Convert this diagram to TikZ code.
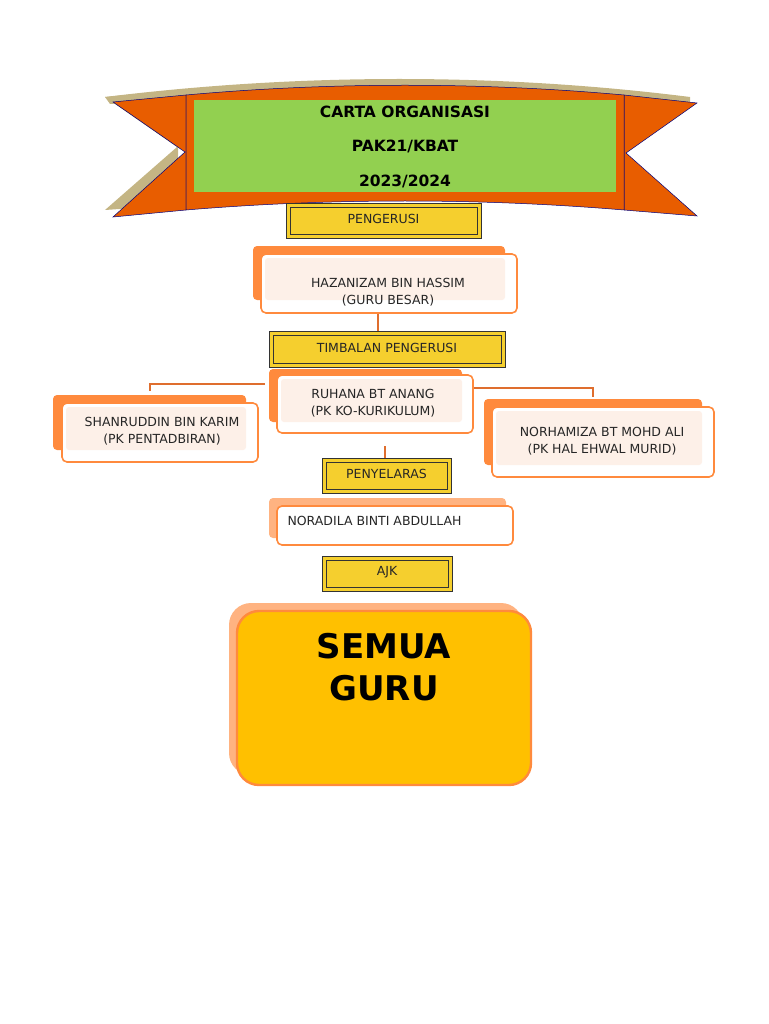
\documentclass[tikz,border=0pt]{standalone}
\usepackage{fontspec}
\setmainfont{DejaVu Sans}
\begin{document}
\begin{tikzpicture}[x=1pt,y=-1pt,
  bev/.style={draw=black!80,fill=yelfill,line width=0.8pt},
  bevin/.style={draw=black!80,line width=0.6pt},
  shad/.style={fill=shadorange,rounded corners=4pt},
  front/.style={draw=shadorange,line width=1.6pt,fill=white,rounded corners=5pt},
  inner/.style={fill=palefill,rounded corners=3pt},
  txt/.style={font=\fontsize{12.5}{15}\selectfont,text=black!85,align=center},
  conn/.style={draw=connc,line width=2pt}]
\definecolor{yelfill}{HTML}{F5CF2E}
\definecolor{shadorange}{HTML}{FF8A3D}
\definecolor{palefill}{HTML}{FDF0E8}
\definecolor{connc}{HTML}{DF6E2E}
\definecolor{banor}{HTML}{E85D00}
\definecolor{tan}{HTML}{C4B584}
\definecolor{greenf}{HTML}{92D050}
\definecolor{gold}{HTML}{FFC000}
\useasboundingbox (0,0) rectangle (768,1024);
% banner shadow
\fill[tan] (105,97) .. controls (300,73) and (500,73) .. (690,97) -- (690,104) -- (110,104) -- cycle;
\fill[tan] (105,97) -- (178,90) -- (178,205) -- (105,210) -- (177,147) -- cycle;
% tails
\draw[fill=banor,draw=blue!50!black,line width=0.5pt] (113,102) -- (186,95) -- (186,210) -- (113,217) -- (185,152) -- cycle;
\draw[fill=banor,draw=blue!50!black,line width=0.5pt] (624,95) -- (697,103) -- (626,153) -- (697,216) -- (624,210) -- cycle;
% center
\draw[fill=banor,draw=blue!50!black,line width=0.5pt] (186,95) .. controls (330,82) and (480,82) .. (624,95) -- (624,210) .. controls (480,198) and (330,198) .. (186,210) -- cycle;
\fill[greenf] (194,100) rectangle (616,192);
\node[font=\bfseries\fontsize{15.5}{18}\selectfont] (t1) at (405,112) {CARTA ORGANISASI};
\node[font=\bfseries\fontsize{15.5}{18}\selectfont] (t2) at (405,146) {PAK21/KBAT};
\node[font=\bfseries\fontsize{15.5}{18}\selectfont] (t3) at (405,181) {2023/2024};
% bevel boxes
\draw[bev] (286,203) rectangle (481,238); \draw[bevin] (290,207) rectangle (477,234);
\node[txt] (peng) at (383.5,219) {PENGERUSI};
\draw[bev] (269,331) rectangle (505,367); \draw[bevin] (273,335) rectangle (501,363);
\node[txt] (timb) at (387,348) {TIMBALAN PENGERUSI};
\draw[bev] (322,458) rectangle (451,493); \draw[bevin] (326,462) rectangle (447,489);
\node[txt] (peny) at (386.5,474) {PENYELARAS};
\draw[bev] (322,556) rectangle (452,591); \draw[bevin] (326,560) rectangle (448,587);
\node[txt] (ajk) at (387,572) {AJK};
% connectors
\coordinate (c1) at (378,313); \coordinate (c2) at (378,331);
\draw[conn] (c1) -- (c2);
\coordinate (l1) at (265,384); \coordinate (l2) at (150,391);
\draw[conn] (l1) -| (l2);
\coordinate (r1) at (473,388); \coordinate (r2) at (593,397);
\draw[conn] (r1) -| (r2);
\coordinate (d1) at (385,446); \coordinate (d2) at (385,458);
\draw[conn] (d1) -- (d2);
% person boxes
\fill[shad] (253,246) rectangle (505,300);
\draw[front] (261,254) rectangle (517,313); \fill[inner] (265,258) rectangle (505,300);
\node[txt] (haz) at (388,292) {HAZANIZAM BIN HASSIM\\[2pt](GURU BESAR)};
\fill[shad] (269,369) rectangle (462,422);
\draw[front] (277,375) rectangle (473,433); \fill[inner] (281,379) rectangle (462,422);
\node[txt] (ruh) at (373,403) {RUHANA BT ANANG\\[2pt](PK KO-KURIKULUM)};
\fill[shad] (53,395) rectangle (246,450);
\draw[front] (62,403) rectangle (258,462); \fill[inner] (66,407) rectangle (246,450);
\node[txt] (sha) at (162,431) {SHANRUDDIN BIN KARIM\\[2pt](PK PENTADBIRAN)};
\fill[shad] (484,399) rectangle (702,465);
\draw[front] (492,407) rectangle (714,477); \fill[inner] (496,411) rectangle (702,465);
\node[txt] (nor) at (602,441) {NORHAMIZA BT MOHD ALI\\[2pt](PK HAL EHWAL MURID)};
\fill[shad,fill=shadorange!65] (269,498) rectangle (506,538);
\draw[front] (277,506) rectangle (513,545);
\node[txt,anchor=west] (nad) at (284,521) {NORADILA BINTI ABDULLAH};
\fill[fill=shadorange!65,rounded corners=22pt] (229,603) rectangle (523,775);
\draw[draw=shadorange,line width=2.4pt,fill=gold,rounded corners=22pt] (237,611) rectangle (531,785);
\node[font=\bfseries\fontsize{34}{42}\selectfont,align=center] (sg) at (384,667) {SEMUA\\GURU};
\end{tikzpicture}
\end{document}
